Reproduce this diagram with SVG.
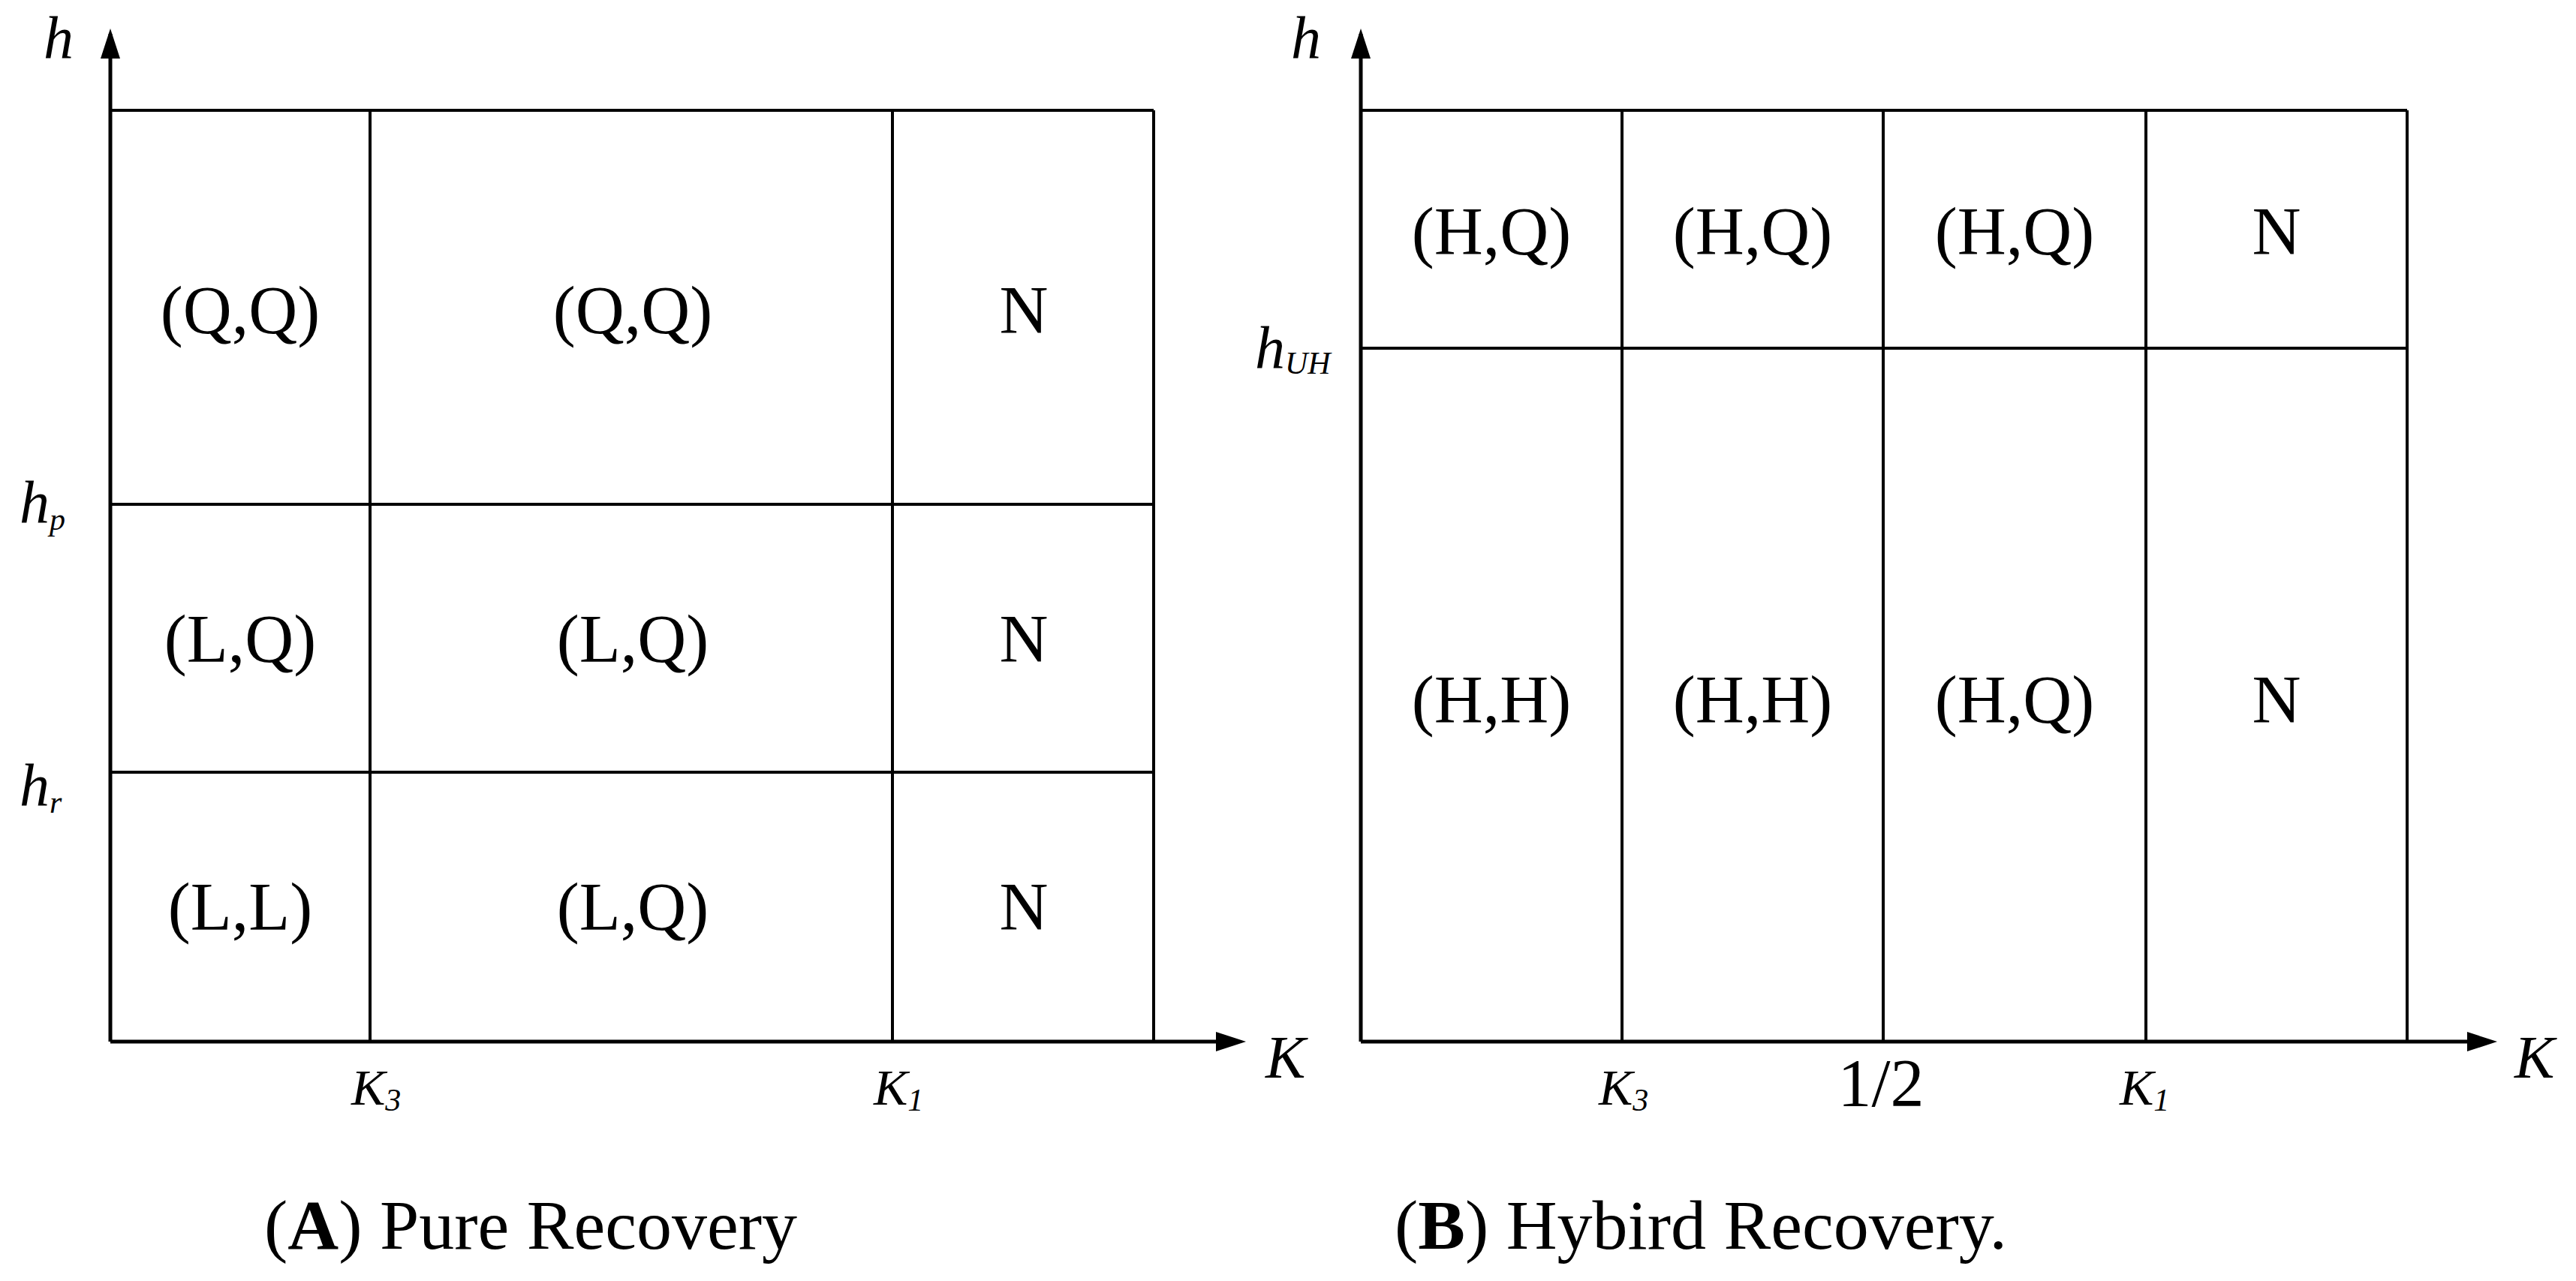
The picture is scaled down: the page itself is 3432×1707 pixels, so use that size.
<svg xmlns="http://www.w3.org/2000/svg" width="3432" height="1707" viewBox="0 0 3432 1707">
<defs>
<style>
.ax{stroke:#000;stroke-width:5;fill:none}
.ln{stroke:#000;stroke-width:4;fill:none}
.c{font-family:"Liberation Serif",serif;font-size:90px;text-anchor:middle;fill:#000}
.i{font-family:"Liberation Serif",serif;font-style:italic;font-size:80px;fill:#000}
.k{font-family:"Liberation Serif",serif;font-style:italic;font-size:68px;fill:#000}
.s{font-size:42px}
.cap{font-family:"Liberation Serif",serif;font-size:94px;text-anchor:middle;fill:#000}
</style>
</defs>
<rect width="3432" height="1707" fill="#fff"/>
<g id="connectors">
<line class="ax" x1="147" y1="1388" x2="147" y2="45"/>
<path d="M147,38 L134,78 L160,78 z" fill="#000"/>
<line class="ax" x1="147" y1="1388" x2="1625" y2="1388"/>
<path d="M1660,1388 L1620,1375 L1620,1401 z" fill="#000"/>
<line class="ax" x1="1813" y1="1388" x2="1813" y2="45"/>
<path d="M1813,38 L1800,78 L1826,78 z" fill="#000"/>
<line class="ax" x1="1813" y1="1388" x2="3290" y2="1388"/>
<path d="M3327,1388 L3287,1375 L3287,1401 z" fill="#000"/>
</g>
<g id="panelA">
<line class="ln" x1="147" y1="147" x2="1537" y2="147"/>
<line class="ln" x1="147" y1="672" x2="1537" y2="672"/>
<line class="ln" x1="147" y1="1029" x2="1537" y2="1029"/>
<line class="ln" x1="493" y1="147" x2="493" y2="1388"/>
<line class="ln" x1="1189" y1="147" x2="1189" y2="1388"/>
<line class="ln" x1="1537" y1="147" x2="1537" y2="1388"/>
<text class="c" x="320" y="444">(Q,Q)</text>
<text class="c" x="843" y="444">(Q,Q)</text>
<text class="c" x="1364" y="444">N</text>
<text class="c" x="320" y="882">(L,Q)</text>
<text class="c" x="843" y="882">(L,Q)</text>
<text class="c" x="1364" y="882">N</text>
<text class="c" x="320" y="1239">(L,L)</text>
<text class="c" x="843" y="1239">(L,Q)</text>
<text class="c" x="1364" y="1239">N</text>
<text class="i" x="58" y="77">h</text>
<text class="i" x="26" y="696">h<tspan class="s" dy="10">p</tspan></text>
<text class="i" x="26" y="1073">h<tspan class="s" dy="10">r</tspan></text>
<text class="i" x="1686" y="1436">K</text>
<text class="k" x="468" y="1472">K<tspan class="s" dy="8">3</tspan></text>
<text class="k" x="1164" y="1472">K<tspan class="s" dy="8">1</tspan></text>
<text class="cap" x="707" y="1664">(<tspan font-weight="bold">A</tspan>) Pure Recovery</text>
</g>
<g id="panelB">
<line class="ln" x1="1813" y1="147" x2="3207" y2="147"/>
<line class="ln" x1="1813" y1="464" x2="3207" y2="464"/>
<line class="ln" x1="2161" y1="147" x2="2161" y2="1388"/>
<line class="ln" x1="2509" y1="147" x2="2509" y2="1388"/>
<line class="ln" x1="2859" y1="147" x2="2859" y2="1388"/>
<line class="ln" x1="3207" y1="147" x2="3207" y2="1388"/>
<text class="c" x="1987" y="339">(H,Q)</text>
<text class="c" x="2335" y="339">(H,Q)</text>
<text class="c" x="2684" y="339">(H,Q)</text>
<text class="c" x="3033" y="339">N</text>
<text class="c" x="1987" y="963">(H,H)</text>
<text class="c" x="2335" y="963">(H,H)</text>
<text class="c" x="2684" y="963">(H,Q)</text>
<text class="c" x="3033" y="963">N</text>
<text class="i" x="1720" y="77">h</text>
<text class="i" x="1672" y="490">h<tspan class="s" dy="8">UH</tspan></text>
<text class="i" x="3350" y="1436">K</text>
<text class="k" x="2130" y="1472">K<tspan class="s" dy="8">3</tspan></text>
<text class="c" x="2506" y="1474" font-size="70px">1/2</text>
<text class="k" x="2824" y="1472">K<tspan class="s" dy="8">1</tspan></text>
<text class="cap" x="2266" y="1664">(<tspan font-weight="bold">B</tspan>) Hybird Recovery.</text>
</g>
</svg>
